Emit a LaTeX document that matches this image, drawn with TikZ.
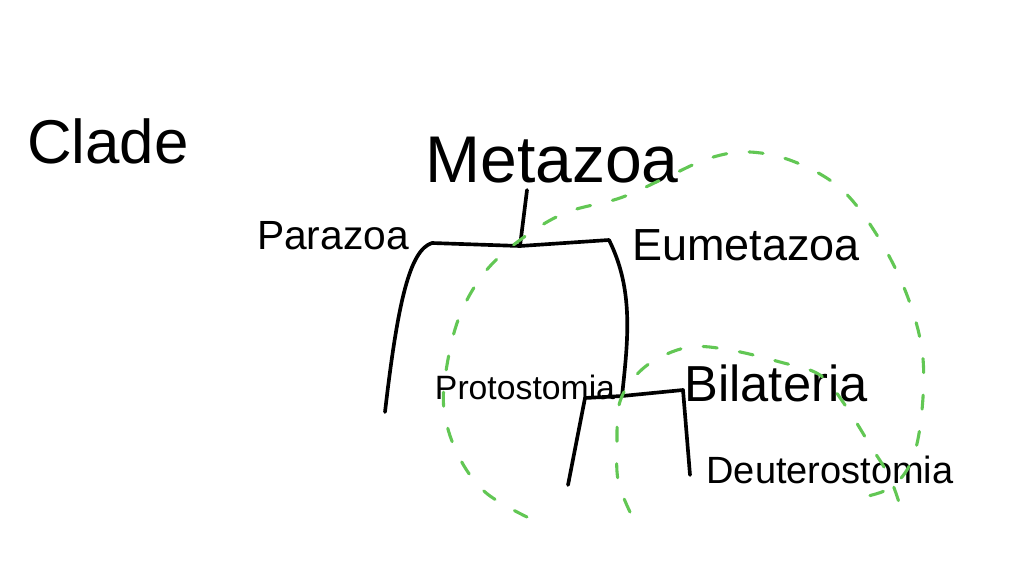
\documentclass[tikz,border=0pt]{standalone}
\usepackage{fontspec}
\setmainfont{Liberation Sans}
\definecolor{loopgreen}{RGB}{98,199,84}
\tikzset{
	branch/.style={line width=2.6pt, line cap=round, line join=round},
	ring/.style={loopgreen, line width=2.2pt, dash pattern=on 10pt off 16pt, line cap=round},
	taxon/.style={inner sep=0pt}
}

\begin{document}
\begin{tikzpicture}[x=0.25mm, y=-0.25mm]
	\fill [white] (0,0) rectangle (1024,576);
	\useasboundingbox (0,0) rectangle (1024,576);
	% labels
	\node [taxon, font=\fontsize{44}{46}\selectfont] (clade) at (108,141) {Clade};
	\node [taxon, font=\fontsize{47}{49}\selectfont] (metazoa) at (552,160) {Metazoa};
	\node [taxon, font=\fontsize{29}{31}\selectfont] (parazoa) at (333,236) {Parazoa};
	\node [taxon, font=\fontsize{32}{34}\selectfont] (eumetazoa) at (746,245) {Eumetazoa};
	\node [taxon, font=\fontsize{24}{26}\selectfont] (protostomia) at (525,387) {Protostomia};
	\node [taxon, font=\fontsize{36}{38}\selectfont] (bilateria) at (776,383) {Bilateria};
	\node [taxon, font=\fontsize{27}{29}\selectfont] (deuterostomia) at (830,470) {Deuterostomia};
	% tree
	\coordinate (stem) at (527,190);
	\coordinate (fork) at (520,246);
	\coordinate (paraTop) at (432,243);
	\coordinate (paraEnd) at (385,412);
	\coordinate (eumeTop) at (609,240);
	\coordinate (bilaFork) at (622,396);
	\coordinate (protoTop) at (585,398);
	\coordinate (protoEnd) at (568,485);
	\coordinate (deutTop) at (683,390);
	\coordinate (deutEnd) at (690,475);
	\draw [branch] (stem) -- (fork);
	\draw [branch] (paraEnd) .. controls (398,300) and (410,250) .. (paraTop) -- (fork) -- (eumeTop)
		.. controls (634,290) and (628,340) .. (bilaFork);
	\draw [branch] (protoEnd) -- (protoTop) -- (bilaFork) -- (deutTop) -- (deutEnd);
	% dashed groups
	\draw [ring] plot [smooth, tension=0.6] coordinates {(527,517) (485,492) (458,455) (444,410)
		(447,365) (460,315) (485,272) (520,240) (565,213) (620,198) (665,178) (710,158)
		(750,152) (795,162) (840,188) (875,232) (905,290) (922,350) (922,410) (912,460)
		(890,488) (858,498)};
	\draw [ring] plot [smooth, tension=0.6] coordinates {(630,512) (618,480) (617,440) (619,405)
		(632,380) (655,360) (690,347) (730,350) (780,362) (820,375) (845,405) (870,445)
		(890,478) (903,515)};
\end{tikzpicture}
\end{document}
